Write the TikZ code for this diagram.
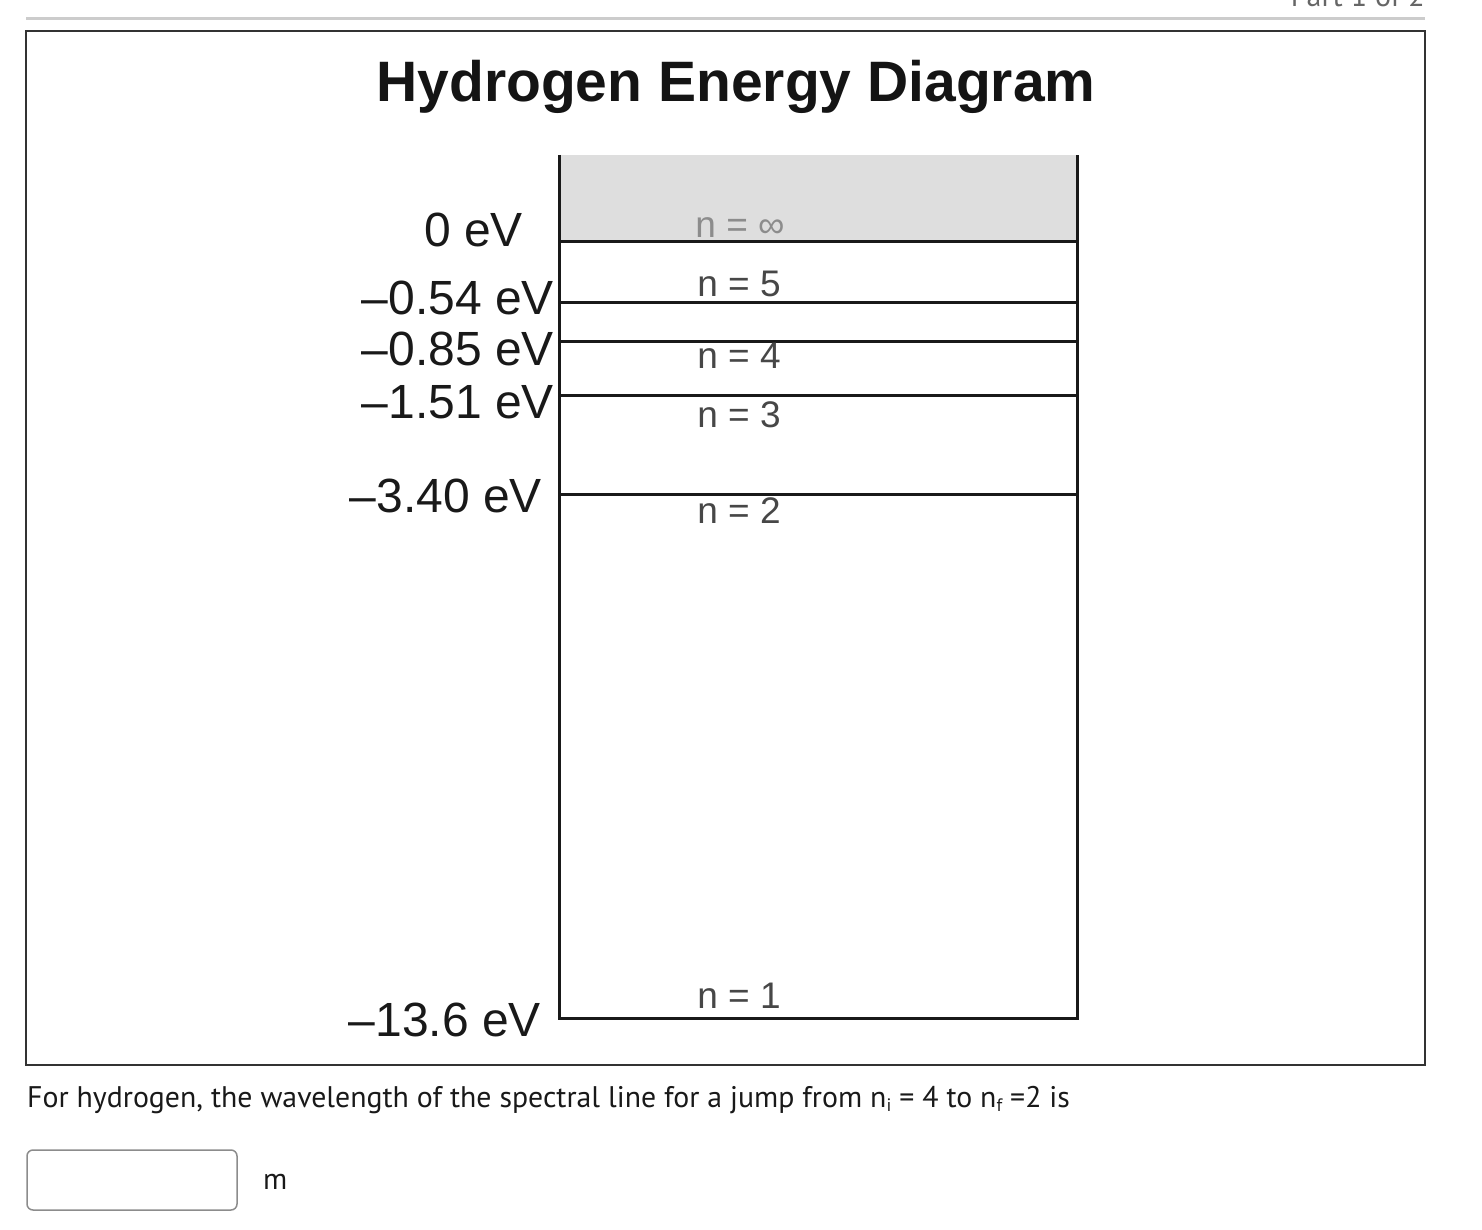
\documentclass[tikz,border=0pt]{standalone}
\usepackage{fontspec}
\setmainfont{Liberation Sans}
\newfontfamily\uifont{PT Sans}
\begin{document}
\begin{tikzpicture}[x=1pt,y=-1pt,
  title/.style={font=\fontsize{57}{60}\selectfont\bfseries, text=black!92, inner sep=0pt},
  evlabel/.style={font=\fontsize{48}{50}\selectfont, text=black!90, inner sep=0pt, anchor=base east},
  nlabel/.style={font=\fontsize{37}{40}\selectfont, text=black!72, inner sep=0pt, anchor=base},
  level/.style={line width=3pt, draw=black!90},
  uitext/.style={font=\uifont\fontsize{29.8}{32}\selectfont, text=black!90, inner sep=0pt, anchor=base west}]
\path[use as bounding box] (0,0) rectangle (1482,1230);
% top rule and page hint
\node[font=\uifont\fontsize{30}{32}\selectfont, text=black!60, inner sep=0pt, anchor=base east] (part) at (1425,7) {Part 1 of 2};
\coordinate (ruleL) at (26,19);
\coordinate (ruleR) at (1425,19);
\draw[line width=3pt, draw=black!20] (ruleL) -- (ruleR);
% outer frame
\coordinate (frTL) at (26,31);
\coordinate (frBR) at (1425,1065);
\draw[line width=1.8pt, draw=black!80] (frTL) rectangle (frBR);
% title
\node[title] (title) at (736,87) {Hydrogen Energy Diagram};
% diagram box
\coordinate (bTL) at (559,155);
\coordinate (bTR) at (1077,155);
\coordinate (bBL) at (559,1018);
\coordinate (bBR) at (1077,1018);
\fill[black!13] (559,155) rectangle (1077,242);
\coordinate (Linf) at (559,242);  \coordinate (Rinf) at (1077,242);
\coordinate (L5) at (559,303);    \coordinate (R5) at (1077,303);
\coordinate (L4) at (559,341);    \coordinate (R4) at (1077,341);
\coordinate (L3) at (559,395);    \coordinate (R3) at (1077,395);
\coordinate (L2) at (559,494);    \coordinate (R2) at (1077,494);
\draw[level] (bTL) -- (bBL) -- (bBR) -- (bTR);
\draw[level] (Linf) -- (Rinf);
\draw[level] (L5) -- (R5);
\draw[level] (L4) -- (R4);
\draw[level] (L3) -- (R3);
\draw[level] (L2) -- (R2);
% energy labels
\node[evlabel] (e0) at (523,247) {0 eV};
\node[evlabel] (e5) at (554,315) {–0.54 eV};
\node[evlabel] (e4) at (554,365) {–0.85 eV};
\node[evlabel] (e3) at (554,418) {–1.51 eV};
\node[evlabel] (e2) at (542,512) {–3.40 eV};
\node[evlabel] (e1) at (541,1036) {–13.6 eV};
% level names
\node[nlabel, text=black!45] (ninf) at (740,238) {n = ∞};
\node[nlabel] (n5) at (739,297) {n = 5};
\node[nlabel] (n4) at (739,368) {n = 4};
\node[nlabel] (n3) at (739,427) {n = 3};
\node[nlabel] (n2) at (739,523) {n = 2};
\node[nlabel] (n1) at (739,1008) {n = 1};
% question
\node[uitext] (q) at (27,1107) {For hydrogen, the wavelength of the spectral line for a jump from n\raisebox{-0.3ex}{\fontsize{18}{20}\selectfont i} = 4 to n\raisebox{-0.3ex}{\fontsize{18}{20}\selectfont f} =2 is};
\draw[line width=1.5pt, draw=black!45, rounded corners=6pt] (27,1150) rectangle (237,1210);
\node[uitext, anchor=base west] (unit) at (263,1189) {m};
\end{tikzpicture}
\end{document}
